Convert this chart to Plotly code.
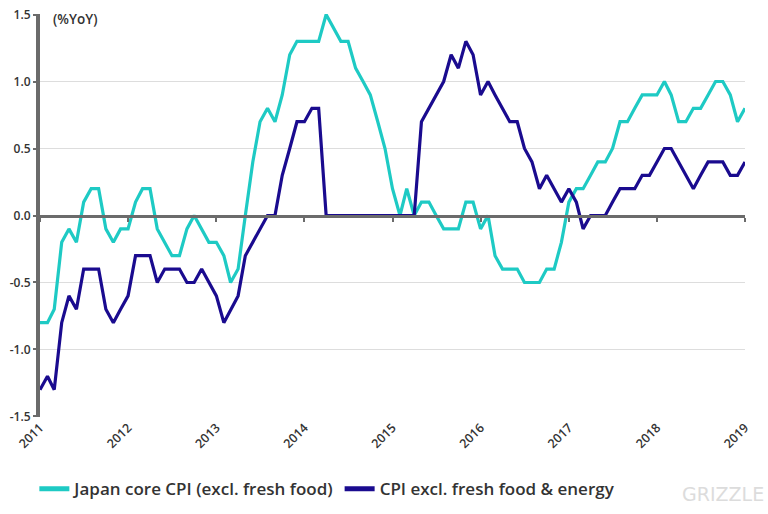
import pandas as pd
import plotly.graph_objects as go

dates = pd.date_range("2011-01-01", "2019-01-01", freq="MS")

core_cpi = [
    -0.8, -0.8, -0.7, -0.2, -0.1, -0.2, 0.1, 0.2, 0.2, -0.1, -0.2, -0.1,   # 2011
    -0.1, 0.1, 0.2, 0.2, -0.1, -0.2, -0.3, -0.3, -0.1, 0.0, -0.1, -0.2,    # 2012
    -0.2, -0.3, -0.5, -0.4, 0.0, 0.4, 0.7, 0.8, 0.7, 0.9, 1.2, 1.3,        # 2013
    1.3, 1.3, 1.3, 1.5, 1.4, 1.3, 1.3, 1.1, 1.0, 0.9, 0.7, 0.5,            # 2014
    0.2, 0.0, 0.2, 0.0, 0.1, 0.1, 0.0, -0.1, -0.1, -0.1, 0.1, 0.1,         # 2015
    -0.1, 0.0, -0.3, -0.4, -0.4, -0.4, -0.5, -0.5, -0.5, -0.4, -0.4, -0.2, # 2016
    0.1, 0.2, 0.2, 0.3, 0.4, 0.4, 0.5, 0.7, 0.7, 0.8, 0.9, 0.9,            # 2017
    0.9, 1.0, 0.9, 0.7, 0.7, 0.8, 0.8, 0.9, 1.0, 1.0, 0.9, 0.7,            # 2018
    0.8,                                                                   # 2019
]

core_core_cpi = [
    -1.3, -1.2, -1.3, -0.8, -0.6, -0.7, -0.4, -0.4, -0.4, -0.7, -0.8, -0.7, # 2011
    -0.6, -0.3, -0.3, -0.3, -0.5, -0.4, -0.4, -0.4, -0.5, -0.5, -0.4, -0.5, # 2012
    -0.6, -0.8, -0.7, -0.6, -0.3, -0.2, -0.1, 0.0, 0.0, 0.3, 0.5, 0.7,      # 2013
    0.7, 0.8, 0.8, 0.0, 0.0, 0.0, 0.0, 0.0, 0.0, 0.0, 0.0, 0.0,             # 2014
    0.0, 0.0, 0.0, 0.0, 0.7, 0.8, 0.9, 1.0, 1.2, 1.1, 1.3, 1.2,             # 2015
    0.9, 1.0, 0.9, 0.8, 0.7, 0.7, 0.5, 0.4, 0.2, 0.3, 0.2, 0.1,             # 2016
    0.2, 0.1, -0.1, 0.0, 0.0, 0.0, 0.1, 0.2, 0.2, 0.2, 0.3, 0.3,            # 2017
    0.4, 0.5, 0.5, 0.4, 0.3, 0.2, 0.3, 0.4, 0.4, 0.4, 0.3, 0.3,             # 2018
    0.4,                                                                    # 2019
]

series_names = ["Japan core CPI (excl. fresh food)", "CPI excl. fresh food & energy"]
series_colors = ["#1ECAC4", "#1A0B8F"]
y_ticks = [-1.5, -1.0, -0.5, 0.0, 0.5, 1.0, 1.5]
y_tick_labels = ["-1.5", "-1.0", "-0.5", "0.0", "0.5", "1.0", "1.5"]
x_ticks = pd.date_range("2011-01-01", "2019-01-01", freq="YS")
x_tick_labels = [str(d.year) for d in x_ticks]

FONT = "Open Sans, Roboto, sans-serif"
AXIS_GREY = "#6B6B6B"

fig = go.Figure()
for vals, name, col in zip([core_cpi, core_core_cpi], series_names, series_colors):
    fig.add_trace(go.Scatter(
        x=dates, y=vals, name=name, mode="lines",
        line=dict(color=col, width=3.2),
    ))

# invisible helper trace so that the zero-line axis is drawn
fig.add_trace(go.Scatter(x=[dates[0]], y=[None], xaxis="x2", showlegend=False,
                         hoverinfo="skip", mode="lines"))

fig.update_layout(
    width=768, height=514,
    margin=dict(l=40, r=23, t=14, b=97, autoexpand=False),
    paper_bgcolor="white", plot_bgcolor="white",
    font=dict(family=FONT, color="#333333", size=12),
    showlegend=True,
    legend=dict(
        orientation="h", x=-0.008, xanchor="left", y=-0.179, yanchor="middle",
        font=dict(family=FONT, size=17, color="#333333", weight=600),
        itemwidth=30, tracegroupgap=0, itemsizing="constant",
        bgcolor="rgba(0,0,0,0)",
    ),
    xaxis=dict(
        type="date",
        range=[dates[0], dates[-1]],
        tickmode="array", tickvals=x_ticks, ticktext=x_tick_labels,
        tickangle=-45,
        tickfont=dict(family=FONT, size=12.5, color="#333333", weight=600),
        showgrid=False, showline=False, zeroline=False,
        ticks="", automargin=False,
    ),
    xaxis2=dict(
        type="date", overlaying="x", matches="x",
        anchor="free", position=0.5,
        range=[dates[0], dates[-1]],
        tickmode="array", tickvals=x_ticks,
        showticklabels=False,
        ticks="outside", ticklen=4, tickwidth=2, tickcolor=AXIS_GREY,
        showline=True, linewidth=3, linecolor=AXIS_GREY,
        showgrid=False, zeroline=False,
    ),
    yaxis=dict(
        range=[-1.504, 1.504],
        tickmode="array", tickvals=y_ticks, ticktext=y_tick_labels,
        tickfont=dict(family=FONT, size=12, color="#333333", weight=600),
        showgrid=True, gridcolor="#DDDDDD", gridwidth=1,
        zeroline=False,
        showline=True, linewidth=4, linecolor=AXIS_GREY,
        ticks="outside", ticklen=3, tickwidth=2, tickcolor=AXIS_GREY,
        automargin=False,
    ),
    annotations=[
        dict(text="(%YoY)", xref="paper", yref="paper", x=0.015, y=0.988,
             xanchor="left", yanchor="middle", showarrow=False,
             font=dict(family=FONT, size=13.5, color="#333333", weight=600),
             bgcolor="white"),
        dict(text="GRIZZLE", xref="paper", yref="paper", x=1.03, y=-0.19,
             xanchor="right", yanchor="middle", showarrow=False,
             font=dict(family="DejaVu Sans, sans-serif", size=19, color="#DCDCDC")),
    ],
)

fig.write_html("out.html")
